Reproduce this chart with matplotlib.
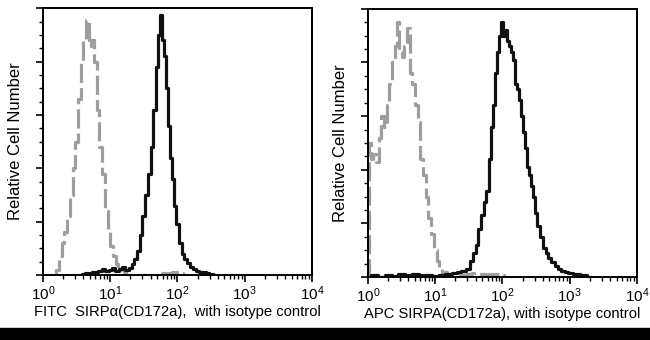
import numpy as np
import matplotlib
matplotlib.use('Agg')
from matplotlib import pyplot as plt
from matplotlib.ticker import LogLocator, MultipleLocator, NullFormatter

plt.rcParams['font.family'] = ['Liberation Sans', 'DejaVu Sans']
plt.rcParams['mathtext.default'] = 'regular'

# log10 of fluorescence intensity and relative counts
fitc_iso_x = [0.18, 0.22, 0.26, 0.30, 0.34, 0.38, 0.42, 0.46, 0.50, 0.54, 0.58,
              0.62, 0.66, 0.70, 0.74, 0.78, 0.82, 0.86, 0.90, 0.94, 0.98, 1.02,
              1.06, 1.10, 1.14, 1.18, 1.22, 1.26, 1.6, 1.9, 1.95, 2.0, 2.05, 2.1]
fitc_iso_y = [0.0, 0.1, 0.35, 0.6, 0.8, 1.1, 1.5, 2.0, 2.5, 3.3, 4.0,
              4.4, 4.78, 4.3, 4.4, 4.0, 3.1, 2.4, 1.9, 1.2, 0.8, 0.55,
              0.35, 0.2, 0.1, 0.12, 0.05, 0.0, 0.0, 0.04, 0.06, 0.05, 0.03, 0.0]

fitc_x = [0.55, 0.60, 0.65, 0.70, 0.75, 0.80, 0.85, 0.90, 0.95, 1.00, 1.05,
          1.10, 1.15, 1.20, 1.25, 1.30, 1.34, 1.38, 1.42, 1.46, 1.50, 1.54,
          1.58, 1.62, 1.66, 1.70, 1.73, 1.76, 1.79, 1.82, 1.85, 1.88, 1.91,
          1.94, 1.97, 2.00, 2.04, 2.08, 2.12, 2.16, 2.20, 2.25, 2.30, 2.35,
          2.40, 2.45, 2.50, 2.55]
fitc_y = [0.0, 0.02, 0.04, 0.03, 0.06, 0.05, 0.08, 0.12, 0.07, 0.1, 0.14,
          0.08, 0.12, 0.15, 0.1, 0.14, 0.2, 0.3, 0.45, 0.75, 1.1, 1.5,
          1.9, 2.4, 3.1, 3.9, 4.5, 4.88, 4.4, 4.1, 3.5, 2.8, 2.2,
          1.8, 1.3, 0.95, 0.6, 0.4, 0.3, 0.22, 0.15, 0.12, 0.08, 0.06,
          0.05, 0.03, 0.02, 0.0]

apc_iso_x = [0.0, 0.02, 0.06, 0.10, 0.14, 0.18, 0.22, 0.26, 0.30, 0.34, 0.38,
             0.42, 0.45, 0.48, 0.52, 0.56, 0.60, 0.64, 0.68, 0.72, 0.76, 0.80,
             0.84, 0.88, 0.92, 0.96, 1.00, 1.04, 1.08, 1.12, 1.16, 1.20, 1.25,
             1.30, 1.40, 1.50, 1.60, 1.70, 1.80, 1.90, 2.00, 2.05]
apc_iso_y = [0.0, 2.5, 2.2, 2.3, 2.15, 2.6, 3.0, 2.8, 3.2, 3.6, 4.0,
             4.3, 4.75, 4.2, 4.1, 4.3, 4.65, 3.8, 3.6, 3.2, 2.9, 2.2,
             1.9, 1.5, 1.1, 0.8, 0.5, 0.3, 0.15, 0.08, 0.1, 0.05, 0.04,
             0.03, 0.04, 0.05, 0.07, 0.06, 0.05, 0.06, 0.03, 0.0]

apc_x = [0.0, 0.1, 0.2, 0.3, 0.4, 0.5, 0.6, 0.7, 0.8, 0.9, 1.0, 1.1, 1.2, 1.3,
         1.36, 1.42, 1.48, 1.54, 1.58, 1.62, 1.66, 1.70, 1.74, 1.78, 1.81,
         1.84, 1.87, 1.90, 1.93, 1.96, 1.99, 2.02, 2.05, 2.08, 2.11, 2.14,
         2.17, 2.20, 2.23, 2.26, 2.29, 2.32, 2.35, 2.38, 2.41, 2.44, 2.47,
         2.50, 2.54, 2.58, 2.62, 2.66, 2.70, 2.75, 2.80, 2.85, 2.90, 2.95,
         3.00, 3.10, 3.20, 3.30]
apc_y = [0.0, 0.03, 0.0, 0.04, 0.02, 0.05, 0.03, 0.05, 0.04, 0.03, 0.02, 0.04,
         0.05, 0.08, 0.1, 0.12, 0.15, 0.3, 0.45, 0.6, 0.9, 1.15, 1.4, 1.6, 2.2,
         2.8, 3.2, 3.8, 4.2, 4.5, 4.75, 4.5, 4.6, 4.4, 4.3, 4.2,
         4.05, 3.6, 3.5, 3.3, 3.0, 2.7, 2.4, 2.05, 1.9, 1.7, 1.5,
         1.2, 0.95, 0.75, 0.55, 0.45, 0.35, 0.28, 0.2, 0.15, 0.12, 0.1,
         0.08, 0.05, 0.03, 0.0]

panels = [
    ([0.066, 0.191, 0.414, 0.785], fitc_iso_x, fitc_iso_y, fitc_x, fitc_y,
     'FITC  SIRP\u03b1(CD172a),  with isotype control'),
    ([0.566, 0.185, 0.414, 0.789], apc_iso_x, apc_iso_y, apc_x, apc_y,
     'APC SIRPA(CD172a), with isotype control'),
]

fig = plt.figure(figsize=(6.5, 3.4), dpi=100)

for pos, gx, gy, bx, by, xlabel in panels:
    ax = fig.add_axes(pos)
    ax.plot(10 ** np.array(gx), gy, color='#9e9e9e', lw=2.3,
            dashes=(6, 1.6), drawstyle='steps-mid')
    ax.plot(10 ** np.array(bx), by, color='#111111', lw=2.3,
            drawstyle='steps-mid')
    ax.set_xscale('log')
    ax.set_xlim(1, 1e4)
    ax.set_ylim(0, 5)
    ax.xaxis.set_major_locator(LogLocator(base=10, numticks=10))
    ax.xaxis.set_minor_locator(LogLocator(base=10, subs=np.arange(2, 10), numticks=10))
    ax.xaxis.set_minor_formatter(NullFormatter())
    ax.yaxis.set_major_locator(MultipleLocator(1))
    ax.yaxis.set_minor_locator(MultipleLocator(0.25))
    ax.set_yticklabels([])
    ax.tick_params(which='major', length=5, width=1.2, labelsize=11, pad=2)
    ax.tick_params(which='minor', length=3, width=1.0)
    for s in ax.spines.values():
        s.set_linewidth(1.4)
    ax.set_xlabel(xlabel, fontsize=10.6, labelpad=1)
    ax.set_ylabel('Relative Cell Number', fontsize=12, labelpad=7)

# black strip along the bottom edge
fig.patches.append(plt.Rectangle((0, 0), 1, 0.035, transform=fig.transFigure,
                                 color='black', zorder=10))

fig.savefig('out.png', dpi=100)
